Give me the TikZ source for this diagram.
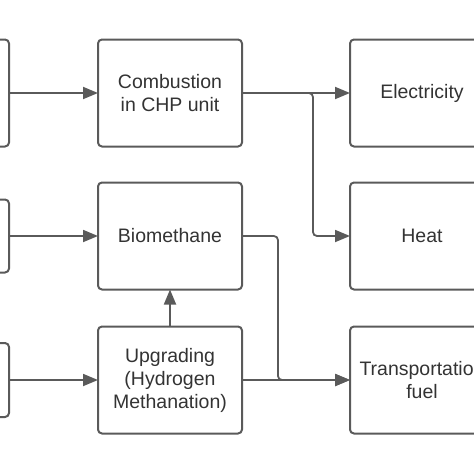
\documentclass[tikz,border=0pt]{standalone}
\usepackage{fontspec}
\setmainfont{Liberation Sans}
\usetikzlibrary{positioning, calc, arrows.meta}
\definecolor{linegray}{HTML}{5A5A5A}
\definecolor{textgray}{HTML}{333333}
\tikzset{stage/.style={draw=linegray, line width=2pt, rounded corners=4pt, minimum width=144pt, minimum height=107pt, inner sep=0pt, outer sep=0pt, align=center, text=textgray, font=\fontsize{19.5}{23}\selectfont}}
\tikzset{flow/.style={draw=linegray, line width=1.8pt, -{Triangle[length=15pt,width=12pt]}}}

\begin{document}
\begin{tikzpicture}
  \useasboundingbox (0,0) rectangle (474pt,-474pt);
  \clip (0,0) rectangle (474pt,-474pt);

  \node[stage] (comb) at (170pt,-93pt) {Combustion\\in CHP unit};
  \node[stage] (bio) [below=36pt of comb] {Biomethane};
  \node[stage] (upg) [below=37pt of bio] {Upgrading\\(Hydrogen\\Methanation)};

  \node[stage] (feed1) [left=89pt of comb] {};
  \node[stage, minimum height=73pt] (feed2) [left=89pt of bio] {};
  \node[stage, minimum height=74pt] (feed3) [left=89pt of upg] {};

  \node[stage] (elec) [right=108pt of comb] {Electricity};
  \node[stage] (heat) [right=108pt of bio] {Heat};
  \node[stage] (trans) [right=108pt of upg] {Transportation\\fuel};

  \coordinate (split) at ($(comb.east)!0.657!(elec.west)$);
  \coordinate (merge) at ($(upg.east)!0.333!(trans.west)$);

  \draw[flow] (feed1) -- (comb);
  \draw[flow] (feed2) -- (bio);
  \draw[flow] (feed3) -- (upg);
  \draw[flow] (comb) -- (elec);
  \draw[flow, rounded corners=4pt] (comb.east) -- (split) |- (heat);
  \draw[flow] (upg) -- (bio);
  \draw[flow] (upg) -- (trans);
  \draw[flow, rounded corners=4pt] (bio) -| (merge) -- (trans);

\end{tikzpicture}
\end{document}
